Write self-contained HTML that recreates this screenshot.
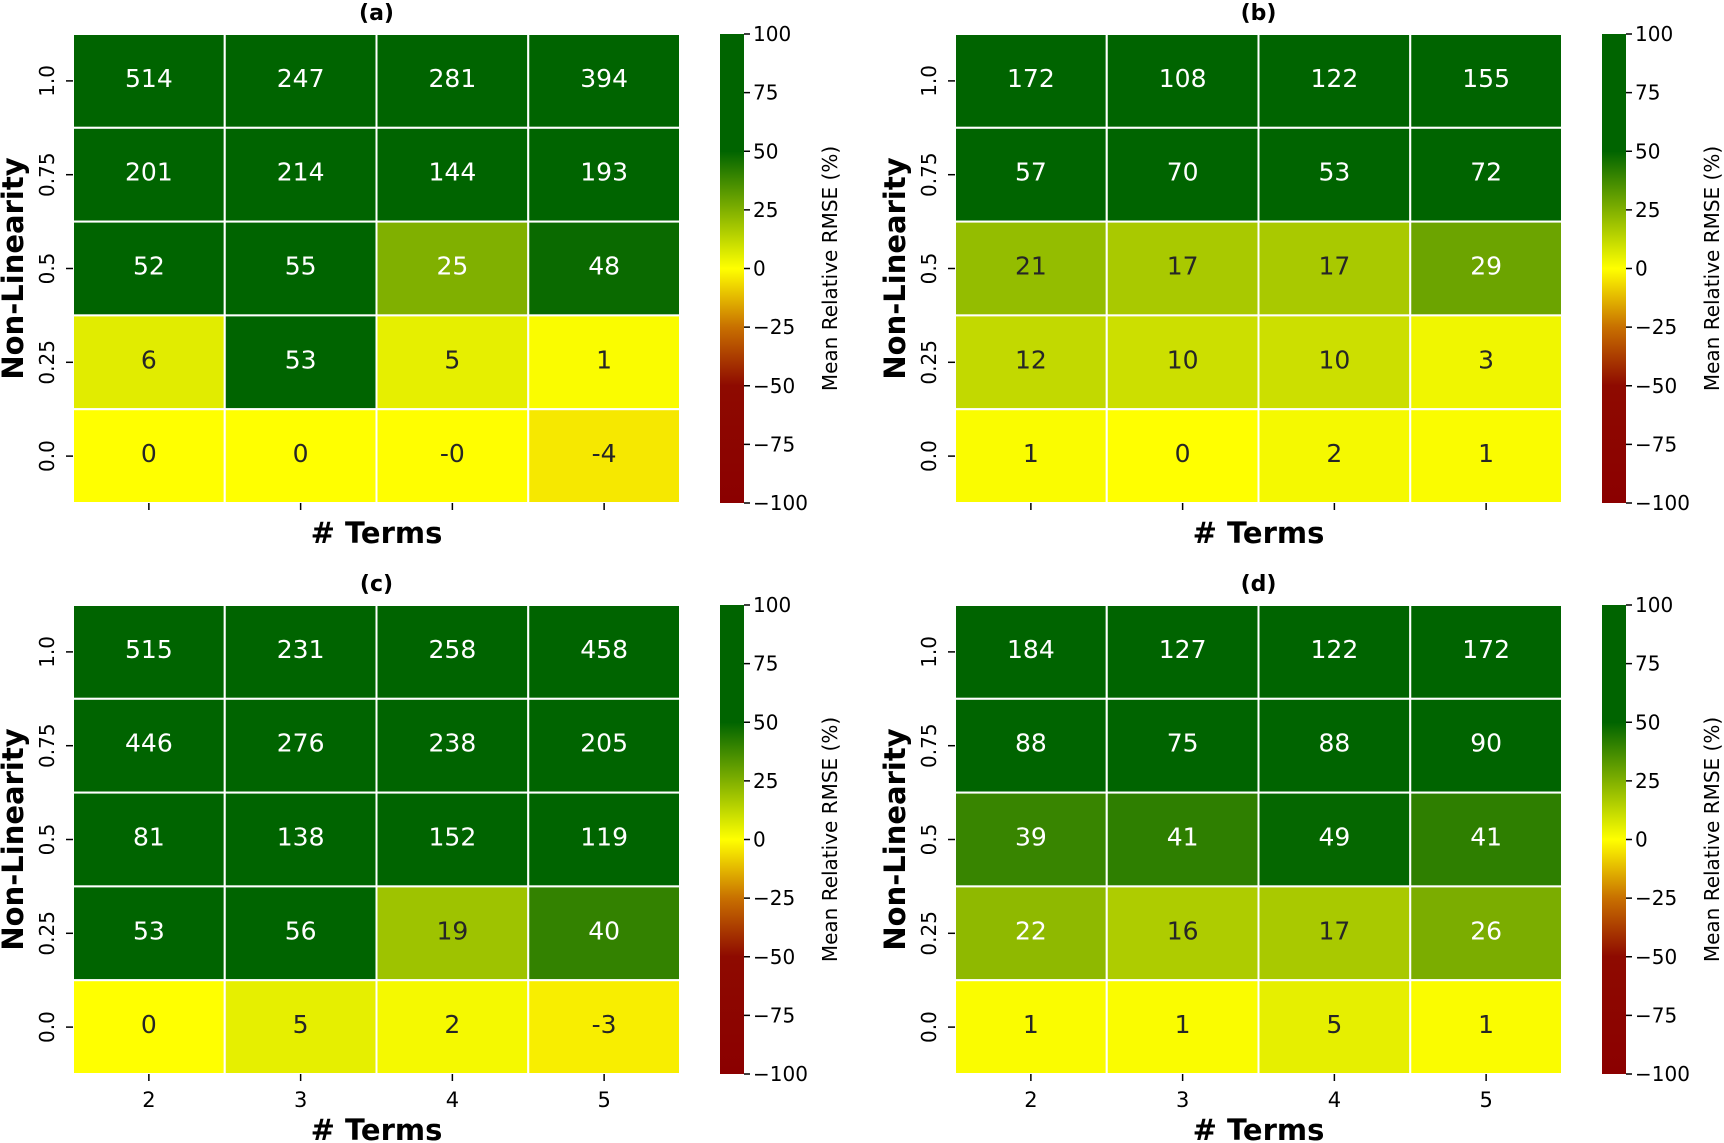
<!DOCTYPE html>
<html><head><meta charset="utf-8"><style>
html,body{margin:0;padding:0;background:#fff;}
svg{display:block;font-family:"DejaVu Sans","Liberation Sans",sans-serif;}
</style></head><body>
<svg id="fig" width="1724" height="1143" viewBox="0 0 1724 1143" xmlns="http://www.w3.org/2000/svg">
<defs>
<linearGradient id="cbgrad" x1="0" y1="1" x2="0" y2="0">
<stop offset="0" stop-color="#8b0000"/>
<stop offset="0.25" stop-color="#8e0a00"/>
<stop offset="0.375" stop-color="#c87000"/>
<stop offset="0.5" stop-color="#ffff00"/>
<stop offset="0.625" stop-color="#80b000"/>
<stop offset="0.75" stop-color="#006400"/>
<stop offset="1" stop-color="#006400"/>
</linearGradient>
</defs>
</svg>
<script>
const xCats = [2, 3, 4, 5];
const yCats = ["1.0", "0.75", "0.5", "0.25", "0.0"];
const cbTicks = [100, 75, 50, 25, 0, -25, -50, -75, -100];
const valuesA = [[514,247,281,394],[201,214,144,193],[52,55,25,48],[6,53,5,1],[0,0,-0.2,-4]];
const valuesB = [[172,108,122,155],[57,70,53,72],[21,17,17,29],[12,10,10,3],[1,0,2,1]];
const valuesC = [[515,231,258,458],[446,276,238,205],[81,138,152,119],[53,56,19,40],[0,5,2,-3]];
const valuesD = [[184,127,122,172],[88,75,88,90],[39,41,49,41],[22,16,17,26],[1,1,5,1]];
const panelTitles = ["(a)", "(b)", "(c)", "(d)"];

const NS = "http://www.w3.org/2000/svg";
const svg = document.getElementById("fig");
const stops = [[-100,[139,0,0]],[-50,[142,10,0]],[-25,[200,112,0]],[0,[255,255,0]],[25,[128,176,0]],[50,[0,100,0]],[100,[0,100,0]]];
function cmap(v){
  v=Math.max(-100,Math.min(100,v));
  for(let i=0;i<stops.length-1;i++){
    const [a,ca]=stops[i],[b,cb]=stops[i+1];
    if(v>=a&&v<=b){const t=(v-a)/(b-a);return ca.map((c,k)=>Math.round(c+(cb[k]-c)*t));}
  }
  return stops[stops.length-1][1];
}
function lum(c){const f=x=>{x/=255;return x<=0.03928?x/12.92:Math.pow((x+0.055)/1.055,2.4);};return 0.2126*f(c[0])+0.7152*f(c[1])+0.0722*f(c[2]);}
function fmt(v){const r=Math.round(v);return (v<0&&r===0)?"-0":String(r);}
function el(tag,attrs,parent){const e=document.createElementNS(NS,tag);for(const k in attrs)e.setAttribute(k,attrs[k]);(parent||svg).appendChild(e);return e;}

const W=607,H=469;
function drawPanel(ox,oy,vals,title,showX,idx){
  const g=el("g",{});
  
  
  const cw=W/xCats.length, ch=H/yCats.length;
  const xs=i=>ox+i*cw, ys=j=>oy+j*ch;
  for(let j=0;j<yCats.length;j++){
    for(let i=0;i<xCats.length;i++){
      const v=vals[j][i]; const c=cmap(v);
      const r=el("rect",{x:xs(i),y:ys(j),width:cw,height:ch,fill:`rgb(${c})`,stroke:"#fff","stroke-width":2},g);
      
      
      const t=el("text",{x:xs(i)+cw/2,y:ys(j)+ch/2+6,"text-anchor":"middle","font-size":25,fill:lum(c)>0.408?"#262626":"#fff"},g);
      t.textContent=fmt(v);
      
      
    }
  }
  for(let i=0;i<xCats.length;i++){
    const x=xs(i)+cw/2;
    el("line",{x1:x,y1:oy+H,x2:x,y2:oy+H+7,stroke:"#000","stroke-width":1.5},g);
    if(showX){const t=el("text",{x:x,y:oy+H+33,"text-anchor":"middle","font-size":21},g);t.textContent=xCats[i];
      }
  }
  const xl=el("text",{x:ox+W/2,y:oy+H+(showX?66:40),"text-anchor":"middle","font-size":29,"font-weight":"bold"},g);
  xl.textContent="# Terms";
  
  for(let j=0;j<yCats.length;j++){
    const y=ys(j)+ch/2;
    el("line",{x1:ox-7,y1:y,x2:ox,y2:y,stroke:"#000","stroke-width":1.5},g);
    const t=el("text",{x:0,y:0,"text-anchor":"middle","font-size":20,transform:`translate(${ox-19},${y}) rotate(-90)`},g);
    t.textContent=yCats[j];
    
  }
  const yl=el("text",{x:0,y:0,"text-anchor":"middle","font-size":29,"font-weight":"bold",transform:`translate(${ox-50},${oy+H/2}) rotate(-90)`},g);
  yl.textContent="Non-Linearity";
  
  const tt=el("text",{x:ox+W/2,y:oy-14,"text-anchor":"middle","font-size":22,"font-weight":"bold"},g);
  tt.textContent=title;
  
  const cx=ox+647,cwid=24;
  const cb=el("rect",{x:cx,y:oy,width:cwid,height:H,fill:"url(#cbgrad)"},g);
  
  const cy=v=>oy+(100-v)/200*H;
  for(const v of cbTicks){
    el("line",{x1:cx+cwid,y1:cy(v),x2:cx+cwid+6,y2:cy(v),stroke:"#000","stroke-width":1.5},g);
    const t=el("text",{x:cx+cwid+9,y:cy(v)+7,"font-size":20},g);
    t.textContent=v<0?"\u2212"+(-v):String(v);
    
  }
  const cl=el("text",{x:0,y:0,"text-anchor":"middle","font-size":20,transform:`translate(${cx+117},${oy+H/2}) rotate(-90)`},g);
  cl.textContent="Mean Relative RMSE (%)";
  
}
drawPanel(73,34,valuesA,panelTitles[0],false,"a");
drawPanel(955,34,valuesB,panelTitles[1],false,"b");
drawPanel(73,605,valuesC,panelTitles[2],true,"c");
drawPanel(955,605,valuesD,panelTitles[3],true,"d");
</script>
</body></html>
